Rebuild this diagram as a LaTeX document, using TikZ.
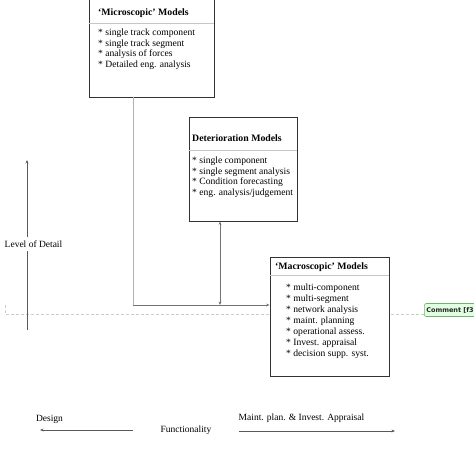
\documentclass[tikz,border=0pt]{standalone}
\usepackage{fontspec}
\setmainfont{Liberation Serif}
\newfontfamily\cmtfont{DejaVu Sans}
\usetikzlibrary{arrows.meta}
\begin{document}
\begin{tikzpicture}[x=1pt,y=-1pt,
  box/.style={draw=black!80, fill=white, line width=0.8pt, inner sep=0pt},
  ttl/.style={anchor=base west, inner sep=0pt, font=\fontsize{9.8}{12}\selectfont\bfseries},
  itm/.style={anchor=base west, inner sep=0pt, font=\fontsize{9.6}{12}\selectfont},
  lbl/.style={inner sep=0pt, font=\fontsize{9.5}{11}\selectfont},
  sep/.style={draw=black!22, line width=0.5pt},
  conn/.style={draw=black!55, line width=0.6pt},
  light/.style={draw=black!30, line width=0.7pt},
  dark/.style={draw=black!65, line width=0.8pt},
  tip/.style={-{Stealth[length=3.5pt,width=2.8pt]}},
  tips/.style={{Stealth[length=3.5pt,width=2.8pt]}-{Stealth[length=3.5pt,width=2.8pt]}}
]
\useasboundingbox (0,0) rectangle (474,459);

% comment and its dashed leader (behind boxes)
\node[anchor=west, draw=green!45!black!55, fill=green!12, rounded corners=2pt,
      line width=0.6pt, inner sep=2pt, minimum height=13pt, text width=58pt, align=left,
      font=\cmtfont\bfseries\fontsize{6.5}{8}\selectfont, text=black!85] (cmt) at (424,310) {Comment [f3};
\coordinate (cstart) at (5,305);
\draw[draw=black!20, line width=0.6pt, dash pattern=on 3pt off 2pt] (cstart) -- (5,314) -- (cmt.west |- 0,314);

% boxes
\node[box, minimum width=125pt, minimum height=104pt] (micro) at (151.5,45) {};
\node[box, minimum width=108pt, minimum height=104pt] (deter) at (243,169) {};
\node[box, minimum width=119pt, minimum height=119pt] (macro) at (329.5,316.5) {};

% separators
\draw[sep] (micro.west |- 0,23) -- (micro.east |- 0,23);
\draw[sep] (deter.west |- 0,150) -- (deter.east |- 0,150);
\draw[sep] (macro.west |- 0,275.5) -- (macro.east |- 0,275.5);

% titles
\node[ttl] (microT) at (98,15) {‘Microscopic’ Models};
\node[ttl] (deterT) at (192,141.5) {Deterioration Models};
\node[ttl] (macroT) at (275,269.5) {‘Macroscopic’ Models};

% items
\foreach \t [count=\i] in {single track component, single track segment, analysis of forces, Detailed eng. analysis}
  \node[itm] (mi\i) at (98,{35.5+10.6*(\i-1)}) {* \t};
\foreach \t [count=\i] in {single component, single segment analysis, Condition forecasting, eng. analysis/judgement}
  \node[itm] (di\i) at (192,{163.5+10.5*(\i-1)}) {* \t};
\foreach \t [count=\i] in {multi-component, multi-segment, network analysis, maint. planning, operational assess., Invest. appraisal, decision supp. syst.}
  \node[itm] (ai\i) at (286,{290.5+11*(\i-1)}) {* \t};

% connectors
\coordinate (corner) at (133,305);
\coordinate (mid) at (220,305);
\draw[light] (micro.south -| corner) -- (corner);
\draw[conn, tip] (corner) -- (corner -| macro.west);
\draw[conn, tips] (mid) -- (mid |- deter.south);

% level of detail
\node[lbl] (lod) at (33.5,244) {Level of Detail};
\coordinate (lodtop) at (27,160);
\coordinate (lodbot) at (27,330);
\draw[dark] (lodbot) -- ([yshift=-3pt]lodbot |- lod.south);
\draw[dark, tip] ([yshift=3pt]lodtop |- lod.north) -- (lodtop);

% bottom axis
\node[lbl, anchor=base] (design) at (49.5,421) {Design};
\node[lbl, anchor=base] (func) at (186,432) {Functionality};
\node[lbl, anchor=base] (maint) at (301.5,420) {Maint. plan. \& Invest. Appraisal};
\coordinate (dA) at (133,430);
\coordinate (dB) at (40,430);
\coordinate (mA) at (239,431);
\coordinate (mB) at (395,431);
\draw[dark, tip] (dA) -- (dB);
\draw[dark, tip] (mA) -- (mB);
\end{tikzpicture}
\end{document}
